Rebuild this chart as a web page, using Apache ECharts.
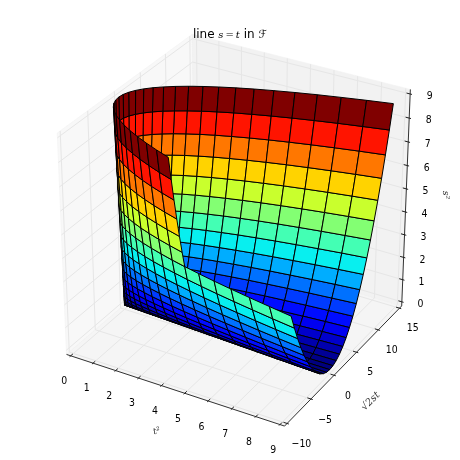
<!DOCTYPE html>
<html><head><meta charset="utf-8">
<style>html,body{margin:0;padding:0;background:#fff}#c{width:460px;height:460px}</style>
<script src="https://cdn.jsdelivr.net/npm/echarts@6/dist/echarts.min.js"></script>
</head><body><div id="c"></div>
<script>
// ---------- data ----------
const xTicks = [0,1,2,3,4,5,6,7,8,9];
const yTicks = [-10,-5,0,5,10,15];
const zTicks = [0,1,2,3,4,5,6,7,8,9];
// t^2 for each mesh column
const tSquared = [0,.0278,.1111,.25,.4444,.6944,1,1.3611,1.7778,2.25,2.7778,3.3611,4,4.6944,5.4444,6.25,7.1111,8.0278,9];
// s^2 for each mesh row
const sSquared = [0,.0278,.1111,.25,.4444,.6944,1,1.3611,1.7778,2.25,2.7778,3.3611,4,4.6944,5.4444,6.25,7.1111,8.0278,9];
// sqrt(2)st by row (s) and column (t), back sheet; the front flap is its mirror
const y0  = [0,0,0,0,0,0,0,0,0,0,0,0,0,0,0,0,0,0,0];
const y1  = [0,.04,.08,.12,.16,.20,.24,.27,.31,.35,.39,.43,.47,.51,.55,.59,.63,.67,.71];
const y2  = [0,.08,.16,.24,.31,.39,.47,.55,.63,.71,.79,.86,.94,1.02,1.10,1.18,1.26,1.34,1.41];
const y3  = [0,.12,.24,.35,.47,.59,.71,.82,.94,1.06,1.18,1.30,1.41,1.53,1.65,1.77,1.89,2.00,2.12];
const y4  = [0,.16,.31,.47,.63,.79,.94,1.10,1.26,1.41,1.57,1.73,1.89,2.04,2.20,2.36,2.51,2.67,2.83];
const y5  = [0,.20,.39,.59,.79,.98,1.18,1.37,1.57,1.77,1.96,2.16,2.36,2.55,2.75,2.95,3.14,3.34,3.54];
const y6  = [0,.24,.47,.71,.94,1.18,1.41,1.65,1.89,2.12,2.36,2.59,2.83,3.06,3.30,3.54,3.77,4.01,4.24];
const y7  = [0,.27,.55,.82,1.10,1.37,1.65,1.92,2.20,2.47,2.75,3.02,3.30,3.57,3.85,4.12,4.40,4.67,4.95];
const y8  = [0,.31,.63,.94,1.26,1.57,1.89,2.20,2.51,2.83,3.14,3.46,3.77,4.09,4.40,4.71,5.03,5.34,5.66];
const y9  = [0,.35,.71,1.06,1.41,1.77,2.12,2.47,2.83,3.18,3.54,3.89,4.24,4.60,4.95,5.30,5.66,6.01,6.36];
const y10 = [0,.39,.79,1.18,1.57,1.96,2.36,2.75,3.14,3.54,3.93,4.32,4.71,5.11,5.50,5.89,6.29,6.68,7.07];
const y11 = [0,.43,.86,1.30,1.73,2.16,2.59,3.02,3.46,3.89,4.32,4.75,5.19,5.62,6.05,6.48,6.91,7.35,7.78];
const y12 = [0,.47,.94,1.41,1.89,2.36,2.83,3.30,3.77,4.24,4.71,5.19,5.66,6.13,6.60,7.07,7.54,8.01,8.49];
const y13 = [0,.51,1.02,1.53,2.04,2.55,3.06,3.57,4.09,4.60,5.11,5.62,6.13,6.64,7.15,7.66,8.17,8.68,9.19];
const y14 = [0,.55,1.10,1.65,2.20,2.75,3.30,3.85,4.40,4.95,5.50,6.05,6.60,7.15,7.70,8.25,8.80,9.35,9.90];
const y15 = [0,.59,1.18,1.77,2.36,2.95,3.54,4.12,4.71,5.30,5.89,6.48,7.07,7.66,8.25,8.84,9.43,10.02,10.61];
const y16 = [0,.63,1.26,1.89,2.51,3.14,3.77,4.40,5.03,5.66,6.29,6.91,7.54,8.17,8.80,9.43,10.06,10.69,11.31];
const y17 = [0,.67,1.34,2.00,2.67,3.34,4.01,4.67,5.34,6.01,6.68,7.35,8.01,8.68,9.35,10.02,10.69,11.35,12.02];
const y18 = [0,.71,1.41,2.12,2.83,3.54,4.24,4.95,5.66,6.36,7.07,7.78,8.49,9.19,9.90,10.61,11.31,12.02,12.73];
const yRows = [y0,y1,y2,y3,y4,y5,y6,y7,y8,y9,y10,y11,y12,y13,y14,y15,y16,y17,y18];
// front flap extent: number of rows kept in each of its 18 columns
const flapRows = [18,18,18,18,18,18,18,18,18,18,18,18,12,12,12,12,12,12];

// ---------- 3D scale (mplot3d defaults) ----------
const lim = {x:[0,9], y:[-10,15], z:[0,9]};
const view = {elev:30, azim:-60, dist:10, cx:236.8, cy:223.2, sx:2416, sy:2425};
const d2r = Math.PI/180;
const ce=Math.cos(view.elev*d2r), se=Math.sin(view.elev*d2r), ca=Math.cos(view.azim*d2r), sa=Math.sin(view.azim*d2r);
const n=[ce*ca,ce*sa,se];
const ul=Math.hypot(n[1],n[0]);
const u=[-n[1]/ul,n[0]/ul,0];
const v=[n[1]*u[2]-n[2]*u[1], n[2]*u[0]-n[0]*u[2], n[0]*u[1]-n[1]*u[0]];
const eye=[.5+view.dist*n[0],.5+view.dist*n[1],.5+view.dist*n[2]];
function cam(p){
  const a=[(p[0]-lim.x[0])/(lim.x[1]-lim.x[0])-eye[0],(p[1]-lim.y[0])/(lim.y[1]-lim.y[0])-eye[1],(p[2]-lim.z[0])/(lim.z[1]-lim.z[0])-eye[2]];
  const w=-(a[0]*n[0]+a[1]*n[1]+a[2]*n[2]);
  return {X:(a[0]*u[0]+a[1]*u[1]+a[2]*u[2])/w, Y:(a[0]*v[0]+a[1]*v[1]+a[2]*v[2])/w, w};
}
function px(p){const c=cam(p);return [view.cx+c.X*view.sx, view.cy-c.Y*view.sy];}

// jet colormap
function jetCh(t,pts){for(let i=1;i<pts.length;i++){if(t<=pts[i][0]){const a=pts[i-1],b=pts[i];return a[1]+(b[1]-a[1])*(t-a[0])/(b[0]-a[0]);}}return pts[pts.length-1][1];}
function jet(t){
  const r=jetCh(t,[[0,0],[.35,0],[.66,1],[.89,1],[1,.5]]);
  const g=jetCh(t,[[0,0],[.125,0],[.375,1],[.64,1],[.91,0],[1,0]]);
  const b=jetCh(t,[[0,.5],[.11,1],[.34,1],[.65,0],[1,0]]);
  return `rgb(${Math.round(r*255)},${Math.round(g*255)},${Math.round(b*255)})`;
}

// surface cells
const cells=[];
function addCell(r,c,sign){
  const pts=[[tSquared[c],sign*yRows[r][c],sSquared[r]],[tSquared[c+1],sign*yRows[r][c+1],sSquared[r]],
             [tSquared[c+1],sign*yRows[r+1][c+1],sSquared[r+1]],[tSquared[c],sign*yRows[r+1][c],sSquared[r+1]]];
  const avg=(sSquared[r]+sSquared[r+1])/2;
  const depth=pts.reduce((s,p)=>s+cam(p).w,0)/4;
  cells.push({pts,avg,depth});
}
for(let r=0;r<sSquared.length-1;r++)for(let c=0;c<tSquared.length-1;c++){
  addCell(r,c,1);
  if(r<flapRows[c])addCell(r,c,-1);
}
const avgMin=Math.min(...cells.map(c=>c.avg)), avgMax=Math.max(...cells.map(c=>c.avg));
cells.sort((a,b)=>b.depth-a.depth);

// pane limits
const dx=(lim.x[1]-lim.x[0])/12, dy=(lim.y[1]-lim.y[0])/12, dz=(lim.z[1]-lim.z[0])/12;
const X0=lim.x[0]-dx/4,X1=lim.x[1]+dx/4,Y0=lim.y[0]-dy/4,Y1=lim.y[1]+dy/4,Z0=lim.z[0]-dz/4,Z1=lim.z[1]+dz/4;
const panes=[
 {pts:[[X0,Y0,Z0],[X0,Y1,Z0],[X0,Y1,Z1],[X0,Y0,Z1]],fill:'rgba(242,242,242,0.5)'},
 {pts:[[X0,Y1,Z0],[X1,Y1,Z0],[X1,Y1,Z1],[X0,Y1,Z1]],fill:'rgba(230,230,230,0.5)'},
 {pts:[[X0,Y0,Z0],[X1,Y0,Z0],[X1,Y1,Z0],[X0,Y1,Z0]],fill:'rgba(236,236,236,0.5)'}
];
const grids=[];
xTicks.forEach(t=>grids.push([[t,Y0,Z0],[t,Y1,Z0],[t,Y1,Z1]]));
yTicks.forEach(t=>grids.push([[X1,t,Z0],[X0,t,Z0],[X0,t,Z1]]));
zTicks.forEach(t=>grids.push([[X0,Y0,t],[X0,Y1,t],[X1,Y1,t]]));
const axisLines=[[[X0,Y0,Z0],[X1,Y0,Z0]],[[X1,Y0,Z0],[X1,Y1,Z0]],[[X1,Y1,Z0],[X1,Y1,Z1]]];
const tickLines=[];
xTicks.forEach(t=>tickLines.push([[t,Y0+.2*dy,Z0],[t,Y0-.1*dy,Z0]]));
yTicks.forEach(t=>tickLines.push([[X1-.2*dx,t,Z0],[X1+.1*dx,t,Z0]]));
zTicks.forEach(t=>tickLines.push([[X1-.2*dx,Y1,t],[X1+.1*dx,Y1,t]]));
const labels=[];
xTicks.forEach(t=>labels.push({p:[t,Y0-.65*dy,Z0-1.12*dz],text:String(t)}));
yTicks.forEach(t=>labels.push({p:[X1+.8*dx,t,Z0-.95*dz],text:String(t).replace('-','\u2212')}));
zTicks.forEach(t=>labels.push({p:[X1+.94*dx,Y1+.275*dy,t],text:String(t)}));
const axisTitles=[
 {p:[4.55,Y0-1.67*dy,Z0-1.45*dz],text:'t\u00B2',rot:18,size:9},
 {p:[X1+1.27*dx,3.35,Z0-2.07*dz],text:'\u221A2st',rot:45,size:10},
 {p:[X1+1.69*dx,Y1+1.07*dy,4.7],text:'s\u00B2',rot:-88,size:9}
];

function idx(a){return a.map((_,i)=>[i]);}
function polyItem(list,styleFn){return (params)=>{const o=list[params.dataIndex];return {type:'polygon',shape:{points:o.pts.map(px)},style:styleFn(o)};};}
function lineItem(list,stroke,lw){return (params)=>({type:'polyline',shape:{points:list[params.dataIndex].map(px)},style:{fill:'none',stroke,lineWidth:lw}});}
const base={type:'custom',coordinateSystem:'none',silent:true,animation:false,clip:false};

const chart=echarts.init(document.getElementById('c'),null,{renderer:'canvas'});
chart.setOption({
  animation:false,
  backgroundColor:'#fff',
  title:{left:'center',top:29,itemGap:0,padding:0,
    text:'{a|line }{m|s\u2009=\u2009t}{a| in }{c|\u2131}',
    textStyle:{fontWeight:'normal',rich:{
      a:{fontFamily:'DejaVu Sans',fontSize:12,fontWeight:'normal',color:'#000'},
      m:{fontFamily:'DejaVu Serif',fontStyle:'italic',fontWeight:'normal',fontSize:10,color:'#000'},
      c:{fontFamily:'DejaVu Sans',fontWeight:'normal',fontSize:11,color:'#000'}}}},
  series:[
    {...base,name:'panes',data:idx(panes),renderItem:polyItem(panes,o=>({fill:o.fill,stroke:'rgba(242,242,242,0.6)',lineWidth:1}))},
    {...base,name:'grid',data:idx(grids),renderItem:lineItem(grids,'#e6e6e6',1)},
    {...base,name:'axes',data:idx(axisLines),renderItem:lineItem(axisLines,'#333',1)},
    {...base,name:'ticks',data:idx(tickLines),renderItem:lineItem(tickLines,'#222',1)},
    {...base,name:'surface',data:idx(cells),renderItem:polyItem(cells,o=>({fill:jet((o.avg-avgMin)/(avgMax-avgMin)),stroke:'#000',lineWidth:1,lineJoin:'round'}))},
    {...base,name:'tickLabels',data:idx(labels),renderItem:(params)=>{const o=labels[params.dataIndex];const q=px(o.p);
      return {type:'text',x:q[0],y:q[1],scaleX:.85,style:{text:o.text,fontFamily:'DejaVu Sans',fontSize:11,fill:'#000',align:'center',verticalAlign:'middle'}};}},
    {...base,name:'axisTitles',data:idx(axisTitles),renderItem:(params)=>{const o=axisTitles[params.dataIndex];const q=px(o.p);
      return {type:'text',x:q[0],y:q[1],rotation:o.rot*d2r,style:{text:o.text,fontFamily:'DejaVu Serif',fontStyle:'italic',fontSize:o.size,fill:'#333',align:'center',verticalAlign:'middle'}};}}
  ]
});
</script></body></html>
